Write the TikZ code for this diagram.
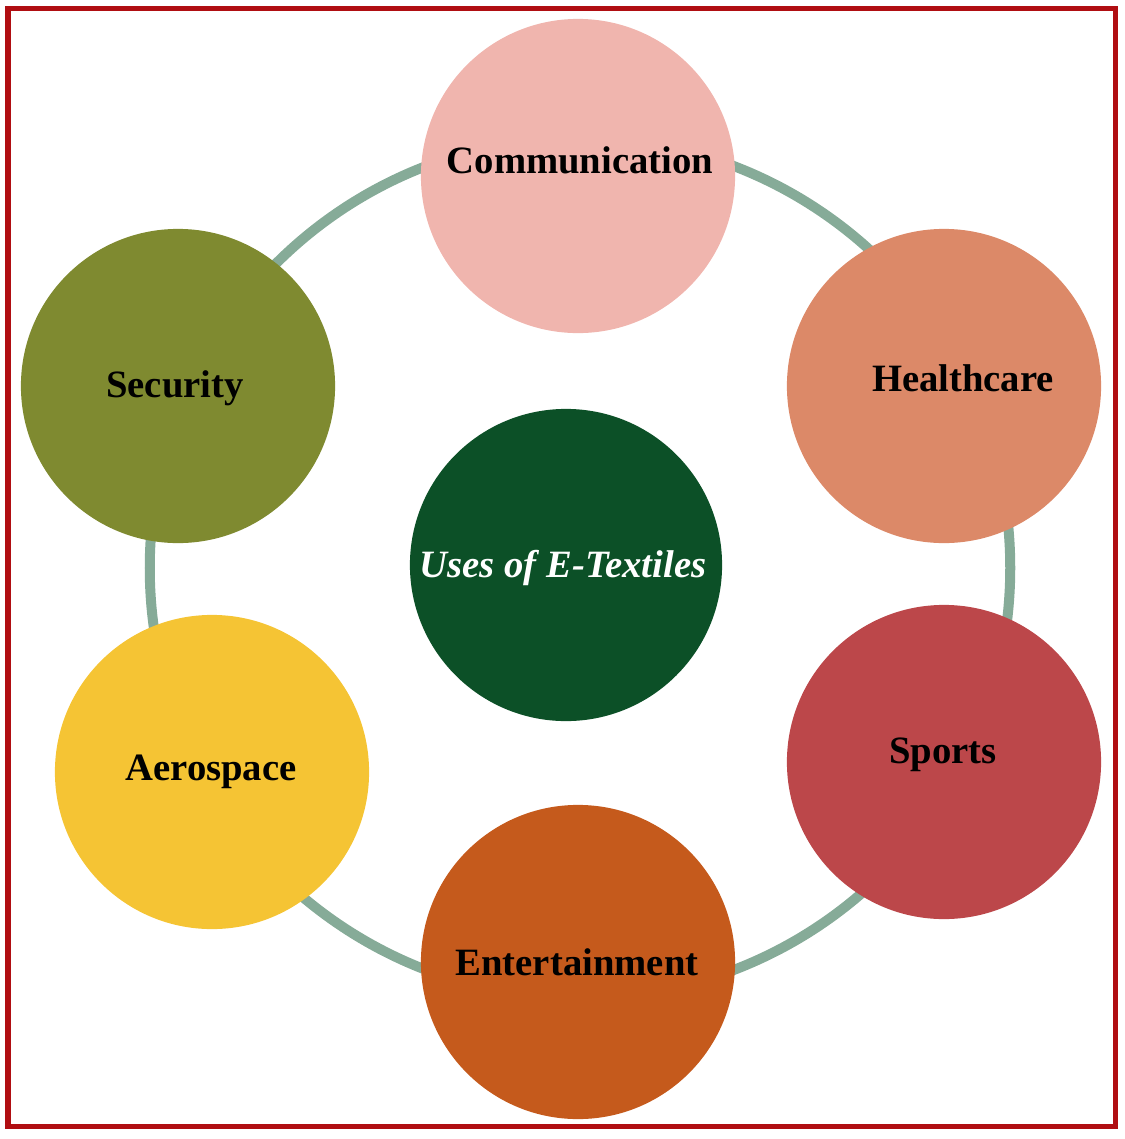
\documentclass[tikz,border=0pt]{standalone}
\usepackage{fontspec}
\setmainfont{Liberation Serif}
\definecolor{frame}{RGB}{176,14,18}
\definecolor{ring}{RGB}{134,171,152}
\definecolor{comm}{RGB}{240,181,174}
\definecolor{health}{RGB}{220,137,104}
\definecolor{sport}{RGB}{188,71,74}
\definecolor{enter}{RGB}{197,90,28}
\definecolor{aero}{RGB}{245,196,52}
\definecolor{secu}{RGB}{127,138,48}
\definecolor{core}{RGB}{12,80,39}
\begin{document}
\begin{tikzpicture}[x=0.01cm,y=-0.01cm,
        ball/.style={circle,minimum size=3.14cm,inner sep=0pt},
        word/.style={font=\fontsize{11}{13}\selectfont\bfseries}]
        \useasboundingbox (0,0) rectangle (1125,1139);
        \draw[frame,line width=0.05cm] (8,8) rectangle (1115.5,1126.5);

        % ring behind the circles
        \coordinate (o) at (580,568);
        \draw[ring,line width=0.1cm] (o) circle[radius=4.3cm];

        \node[ball,fill=comm] (comm) at (578,176) {};
        \node[word] (comm-t) at (580,160) {Communication};
        \node[ball,fill=health] (health) at (944,386) {};
        \node[word] (health-t) at (963,378) {Healthcare};
        \node[ball,fill=sport] (sport) at (944,762) {};
        \node[word] (sport-t) at (943,755) {Sports};
        \node[ball,fill=enter] (enter) at (578,962) {};
        \node[word] (enter-t) at (577,962) {Entertainment};
        \node[ball,fill=aero] (aero) at (212,772) {};
        \node[word] (aero-t) at (211,772) {Aerospace};
        \node[ball,fill=secu] (secu) at (178,386) {};
        \node[word] (secu-t) at (175,388) {Security};

        \node[ball,fill=core,minimum size=3.12cm] (core) at (566,565) {};
        \node[word,text=white,font=\fontsize{11}{13}\selectfont\bfseries\itshape] (core-t) at (563,568) {Uses of E-Textiles};
    \end{tikzpicture}
\end{document}
